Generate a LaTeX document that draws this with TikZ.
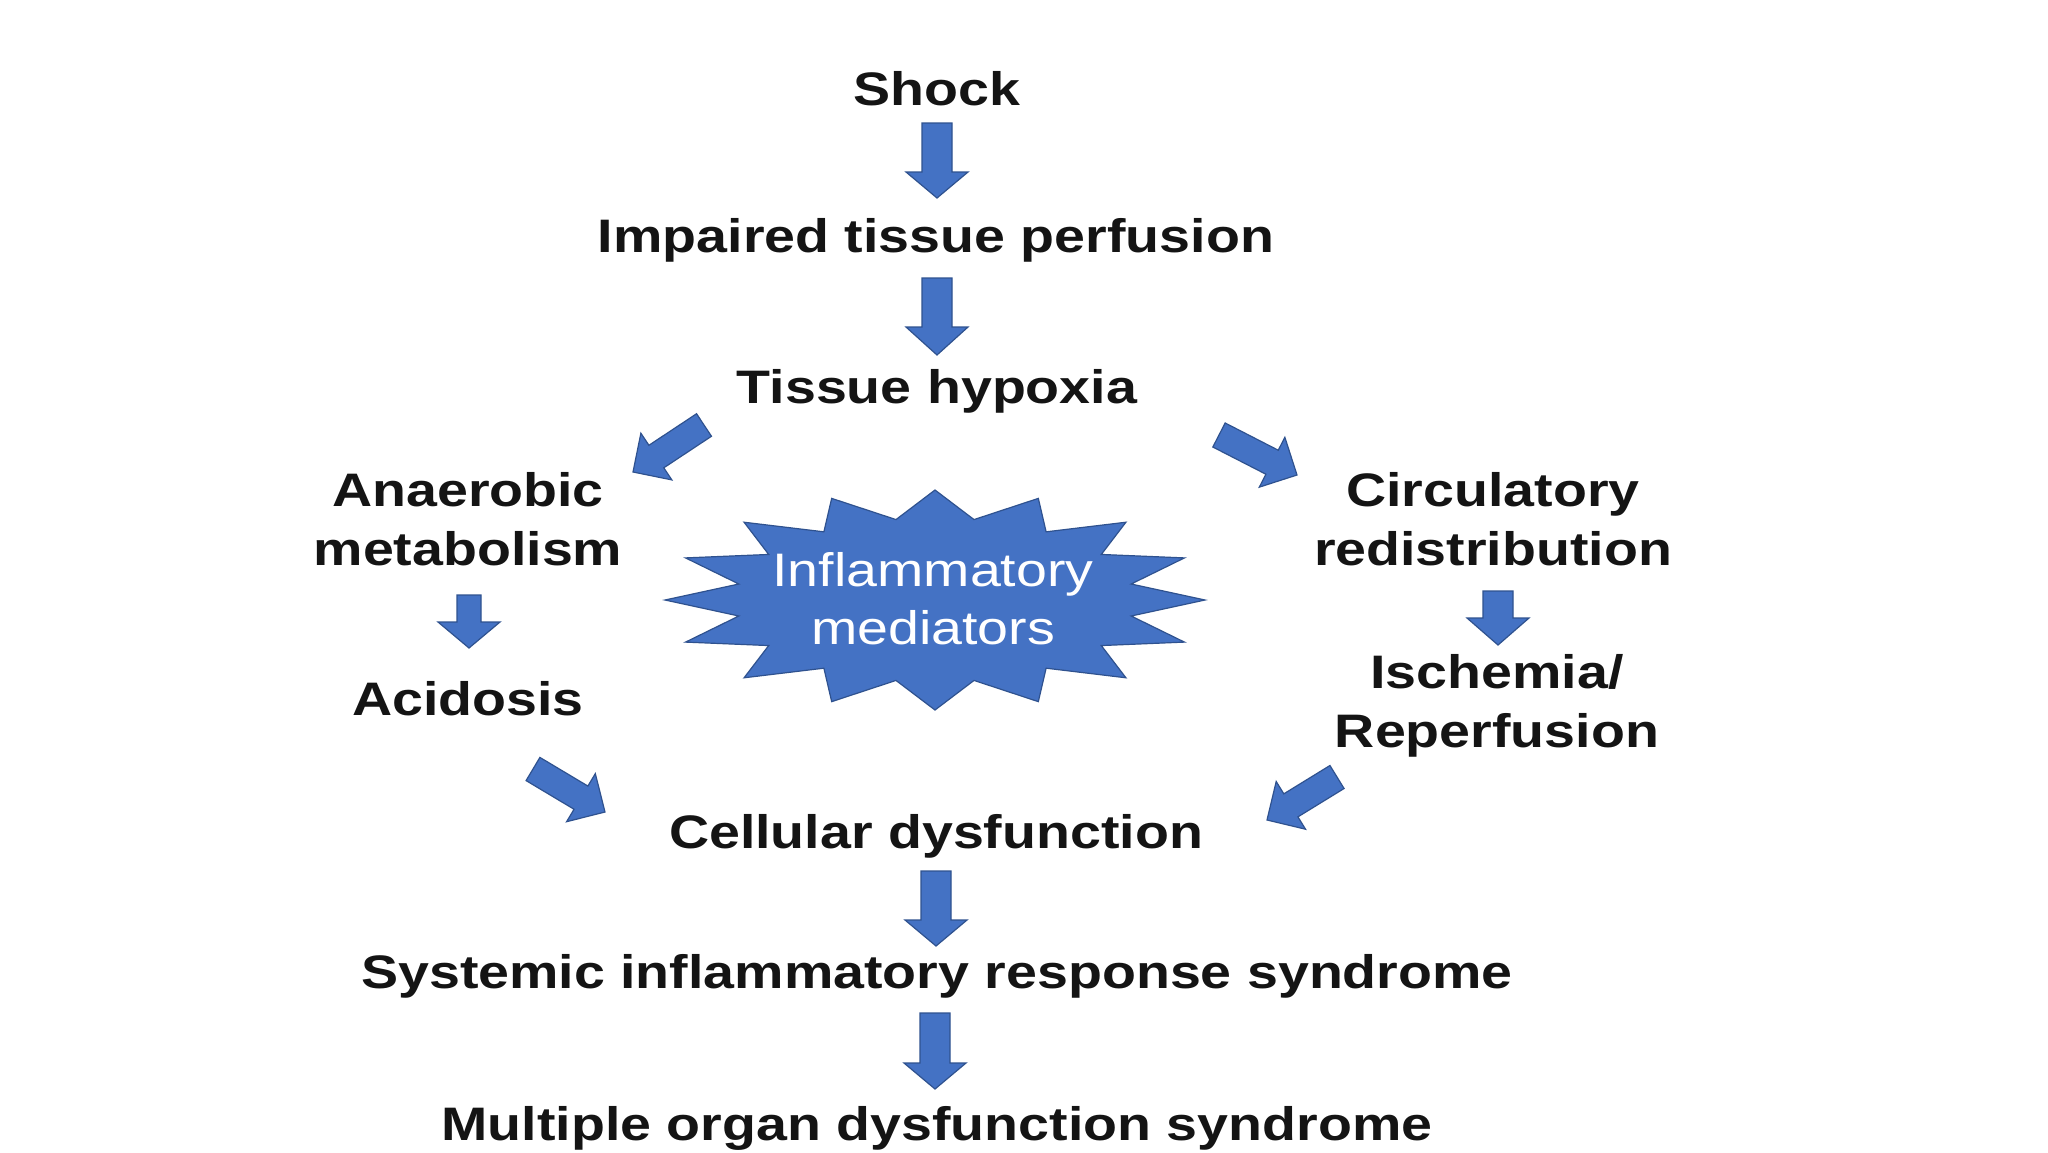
\documentclass[tikz,border=0pt]{standalone}
\usepackage{fontspec}
\setmainfont{Liberation Sans}[FakeStretch=1.182]
\usetikzlibrary{calc}
\definecolor{ablue}{HTML}{4472C4}
\definecolor{aedge}{HTML}{2F528F}
\definecolor{ink}{HTML}{141414}
% #1 tail coordinate, #2 tip coordinate, #3 half shaft width, #4 half head width, #5 head length
\newcommand\blockarr[5]{%
  \coordinate (#1-b) at ($(#2)!#5!(#1)$);
  \filldraw[barrow] ($(#1)!#3!90:(#2)$) -- ($(#1-b)!#3!-90:(#1)$) -- ($(#1-b)!#4!-90:(#1)$)
    -- (#2) -- ($(#1-b)!#4!90:(#1)$) -- ($(#1-b)!#3!90:(#1)$) -- ($(#1)!#3!-90:(#2)$) -- cycle;
}
\begin{document}
\begin{tikzpicture}[x=1pt,y=-1pt,
  lbl/.style={font=\fontsize{47}{59}\selectfont\bfseries, anchor=base, align=center, inner sep=0pt, text=ink},
  starlbl/.style={font=\fontsize{47}{58}\selectfont, anchor=base, align=center, inner sep=0pt, text=white},
  barrow/.style={fill=ablue, draw=aedge, line width=1.2pt, line join=miter},
  starshape/.style={fill=ablue, draw=aedge, line width=1.2pt, line join=miter}]
\useasboundingbox[fill=white] (0,0) rectangle (2048,1152);

% text nodes (anchor = baseline of the last line)
\node[lbl] (shock) at (937,105) {Shock};
\node[lbl] (perf) at (936,252) {Impaired tissue perfusion};
\node[lbl] (hyp) at (937,403) {Tissue hypoxia};
\node[lbl] (anaer) at (468,565) {Anaerobic\\metabolism};
\node[lbl] (circ) at (1493,565) {Circulatory\\redistribution};
\node[lbl] (acid) at (468,715) {Acidosis};
\node[lbl] (isch) at (1497,747) {Ischemia/\\Reperfusion};
\node[lbl] (cell) at (936,848) {Cellular dysfunction};
\node[lbl] (sirs) at (937,988) {Systemic inflammatory response syndrome};
\node[lbl] (mods) at (937,1140) {Multiple organ dysfunction syndrome};

% star
\filldraw[starshape] ({935+270},600)
  \foreach \k in {0,...,15} {
    -- ({935+200*cos(\k*22.5+11.25)},{600-82*sin(\k*22.5+11.25)})
    -- ({935+270*cos((\k+1)*22.5)},{600-110*sin((\k+1)*22.5)})
  } -- cycle;
\node[starlbl] (infl) at (933,644) {Inflammatory\\mediators};

% arrow end points
\coordinate (a1t) at (937,123);  \coordinate (a1h) at (937,198);
\coordinate (a2t) at (937,278);  \coordinate (a2h) at (937,355);
\coordinate (a3t) at (469,595);  \coordinate (a3h) at (469,648);
\coordinate (a4t) at (1498,591); \coordinate (a4h) at (1498,645);
\coordinate (a5t) at (936,871);  \coordinate (a5h) at (936,946);
\coordinate (a6t) at (935,1013); \coordinate (a6h) at (935,1089);
\coordinate (d1t) at (704,425);  \coordinate (d1h) at (633,472);
\coordinate (d2t) at (1219,435); \coordinate (d2h) at (1297,475);
\coordinate (d3t) at (533,769);  \coordinate (d3h) at (605,812);
\coordinate (d4t) at (1337,777); \coordinate (d4h) at (1267,820);

\blockarr{a1t}{a1h}{15pt}{31pt}{26pt}
\blockarr{a2t}{a2h}{15pt}{31pt}{28pt}
\blockarr{a3t}{a3h}{12pt}{31pt}{26pt}
\blockarr{a4t}{a4h}{15pt}{31pt}{27pt}
\blockarr{a5t}{a5h}{15pt}{31pt}{26pt}
\blockarr{a6t}{a6h}{15pt}{31pt}{26pt}
\blockarr{d1t}{d1h}{13.5pt}{28pt}{28pt}
\blockarr{d2t}{d2h}{13.5pt}{28pt}{28pt}
\blockarr{d3t}{d3h}{13.5pt}{28pt}{28pt}
\blockarr{d4t}{d4h}{13.5pt}{28pt}{28pt}
\end{tikzpicture}
\end{document}
